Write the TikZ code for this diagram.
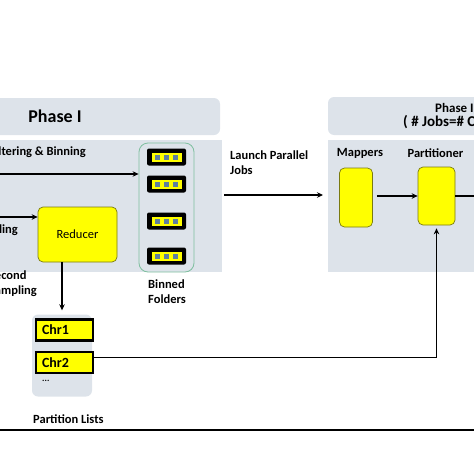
\documentclass[tikz,border=0pt]{standalone}
\usepackage{fontspec}
\setmainfont{Carlito}
\usetikzlibrary{arrows.meta,positioning,calc}
\usepackage{xcolor}
\definecolor{panel}{HTML}{DDE3EA}
\definecolor{boxyellow}{HTML}{FFFF00}
\definecolor{boxedge}{HTML}{7A7A10}
\definecolor{folderteal}{HTML}{7FBF9F}
\definecolor{slotblue}{HTML}{5F7FA0}

\begin{document}
\begin{tikzpicture}[x=1pt,y=-1pt,
  lbl/.style={font=\fontsize{12.5}{15}\selectfont\bfseries, inner sep=0pt, align=left},
  proc/.style={draw=boxedge, fill=boxyellow, rounded corners=5pt, line width=0.7pt, inner sep=0pt},
  chr/.style={draw=black, fill=boxyellow, line width=2.2pt, text width=45pt, inner xsep=6pt,
    minimum height=21pt, align=left, font=\fontsize{14}{15}\selectfont\bfseries},
  flow/.style={-{Stealth[length=6pt,width=5.5pt]}, line width=1.1pt}]
\useasboundingbox (0,0) rectangle (474,474);

% Phase I panels
\fill[panel, rounded corners=6pt] (-10,98) rectangle (220,135);
\node[font=\fontsize{18}{20}\selectfont\bfseries] (phaseone) at (55,116) {Phase I};
\fill[panel] (-10,140) rectangle (222,272);

% Phase II panels
\fill[panel, rounded corners=6pt] (328,97) rectangle (490,135);
\node[font=\fontsize{13}{14}\selectfont\bfseries, anchor=west, inner sep=0pt] (phasetwo) at (435,108) {Phase II};
\node[font=\fontsize{15}{16}\selectfont\bfseries, anchor=west, inner sep=0pt] (jobs) at (403,122) {( \# Jobs=\# Chromosomes)};
\fill[panel] (328,140) rectangle (490,272);

% Binned folders
\node[draw=folderteal, fill=panel, rounded corners=9pt, line width=0.8pt,
  minimum width=55pt, minimum height=129pt] (bins) at (166.5,207.5) {};
\foreach \i/\y in {1/157,2/184,3/221,4/256}{
  \node[fill=black, rounded corners=2pt, minimum width=39pt, minimum height=17pt] (bin\i) at (166.5,\y) {};
  \fill[boxyellow] ($(bin\i)+(-15,-4.5)$) rectangle ($(bin\i)+(15,4.5)$);
  \foreach \dx in {-9,0,9}
    \fill[slotblue] ($(bin\i)+(\dx-2.8,-2.5)$) rectangle ($(bin\i)+(\dx+2.8,2.5)$);
}
\node[lbl, anchor=north west] (binlbl) at (148,280) {Binned\\Folders};

% Phase I flow
\node[lbl, anchor=east] (filt) at (86,152) {Filtering \& Binning};
\coordinate (filtin) at (-5,174);
\draw[flow] (filtin) -- (filtin -| bins.west);
\node[proc, minimum width=79pt, minimum height=55pt] (reducer) at (77.5,234.5)
  {\fontsize{12.5}{14}\selectfont Reducer};
\coordinate (sampin) at (-5,217);
\draw[flow] (sampin) -- (sampin -| reducer.west);
\node[lbl, anchor=east] (samp) at (18,230) {Sampling};
\node[lbl, anchor=north east] (second) at (37,271) {Second\\Sampling};

% Partition lists
\node[fill=panel, rounded corners=6pt, minimum width=60pt, minimum height=82pt] (parts) at (62,355.5) {};
\draw[flow, shorten >=4pt] (reducer.south -| parts) -- (parts.north);
\node[chr] (chr1) at (64.5,330) {Chr1};
\node[chr] (chr2) at (64.5,362.5) {Chr2};
\node[font=\fontsize{9}{10}\selectfont\bfseries, anchor=west, inner sep=0pt] (dots) at (42,381) {...};
\node[lbl, anchor=west] (partlbl) at (33,419) {Partition Lists};

% Launch
\node[lbl, anchor=west] (launch) at (230,163) {Launch Parallel\\Jobs};
\coordinate (launchin) at (224,195);
\coordinate (launchout) at (323,195);
\draw[flow] (launchin) -- (launchout);

% Phase II flow
\node[lbl, anchor=center] (maplbl) at (360,153) {Mappers};
\node[lbl, anchor=center] (partlbltwo) at (435.5,153) {Partitioner};
\node[proc, minimum width=33pt, minimum height=59pt] (mapper) at (356,197.5) {};
\node[proc, minimum width=37pt, minimum height=58pt] (partitioner) at (436.5,196) {};
\draw[flow] ([xshift=4pt]mapper.east |- partitioner.west) -- (partitioner.west);
\coordinate (partout) at (480,196);
\draw[line width=1.1pt] (partitioner.east) -- (partout);
\draw[flow, shorten >=3pt] ([yshift=5pt]chr2.east) -| (partitioner.south);

% Bottom rule
\coordinate (rulel) at (0,430);
\coordinate (ruler) at (474,430);
\draw[line width=1.6pt] (rulel) -- (ruler);
\end{tikzpicture}
\end{document}
